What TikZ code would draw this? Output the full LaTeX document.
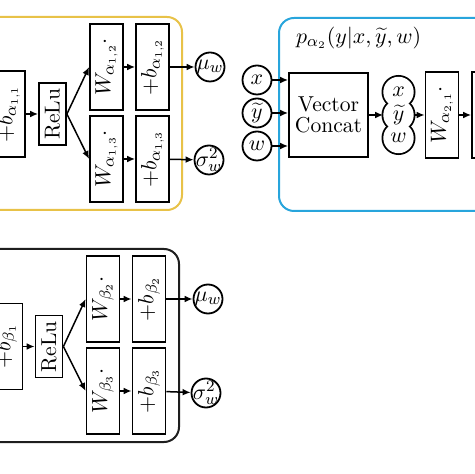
\documentclass[tikz,border=0pt]{standalone}
\usepackage{graphicx}
\usetikzlibrary{arrows.meta}
\definecolor{ylw}{RGB}{232,194,72}
\definecolor{blu}{RGB}{40,165,220}
\definecolor{drk}{RGB}{30,30,30}
\newcommand\rt[1]{\rotatebox{90}{#1}}
\begin{document}
\begin{tikzpicture}[x=0.5pt,y=-0.5pt,
  every node/.style={font=\fontsize{10.8}{10.4}\selectfont},
  box/.style={draw, line width=0.9pt, inner sep=0pt, minimum width=16.5pt, minimum height=43pt},
  relubox/.style={draw, line width=0.9pt, inner sep=0pt, minimum width=13.5pt, minimum height=31pt},
  outc/.style={draw, circle, line width=0.9pt, inner sep=0pt, minimum size=14.5pt},
  stk/.style={circle, inner sep=0pt, minimum size=15pt},
  arr/.style={-{Latex[length=4pt,width=3.4pt]}, line width=0.75pt},
  cont/.style={rounded corners=7.5pt, line width=1pt}]
\useasboundingbox (0,0) rectangle (474,474);
% containers
\draw[cont, ylw] (-30,17) rectangle (182,210);
\draw[cont, blu] (279,18) rectangle (520,211);
\draw[cont, drk] (-30,249) rectangle (179,442);

% top-left network
\node[box] (b11) at (8.5,114) {\rt{$+b_{\alpha_{1,1}}$}};
\node[relubox] (relu1) at (52.5,114) {\rt{ReLu}};
\node[box] (w12) at (106.5,67) {\rt{$W_{\alpha_{1,2}}\cdot$}};
\node[box] (w13) at (106.5,159) {\rt{$W_{\alpha_{1,3}}\cdot$}};
\node[box] (b12) at (152.5,67) {\rt{$+b_{\alpha_{1,2}}$}};
\node[box] (b13) at (152.5,159) {\rt{$+b_{\alpha_{1,3}}$}};
\node[outc, label={center:$\mu_w$}] (mu1) at (210,67) {};
\node[outc, label={center:$\sigma_w^2$}] (sig1) at (209,160) {};
\draw[arr] (b11) -- (relu1);
\draw[arr] (relu1.east) -- (w12.west);
\draw[arr] (relu1.east) -- (w13.west);
\draw[arr] (w12) -- (b12);
\draw[arr] (w13) -- (b13);
\draw[arr] (b12) -- (mu1);
\draw[arr] (b13) -- (sig1);

% top-right network
\node[anchor=west] (title) at (289,38) {$p_{\alpha_2}(y|x,\widetilde{y},w)$};
\node[outc, label={center:$x$}] (xin) at (257,80) {};
\node[outc, label={center:$\widetilde{y}$}] (yin) at (257,113) {};
\node[outc, label={center:$w$}] (win) at (257,146) {};
\node[draw, line width=0.9pt, inner sep=0pt, minimum width=39.5pt, minimum height=42pt, align=center] (vc) at (328.5,115) {Vector\\Concat};
\draw[arr] (xin) -- (xin -| vc.west);
\draw[arr] (yin) -- (yin -| vc.west);
\draw[arr] (win) -- (win -| vc.west);
% stacked vector
\foreach \yy in {92,115,138} \draw[line width=1.8pt] (398.5,\yy) circle[radius=7.6pt];
\foreach \yy in {92,115,138} \fill[white] (398.5,\yy) circle[radius=7.6pt];
\node[stk, label={center:$x$}] (sx) at (398.5,92) {};
\node[stk, label={center:$\widetilde{y}$}] (sy) at (398.5,115) {};
\node[stk, label={center:$w$}] (sw) at (398.5,138) {};
\node[box] (w21) at (442,115) {\rt{$W_{\alpha_{2,1}}\cdot$}};
\node[box] (nxt) at (488.5,115) {};
\draw[arr] (vc) -- (sy.west);
\draw[arr] (sy.east) -- (w21);
\draw[arr] (w21) -- (nxt);

% bottom network
\node[box] (bb1) at (6,346.5) {\rt{$+b_{\beta_1}$}};
\node[relubox] (relu2) at (49,346.5) {\rt{ReLu}};
\node[box] (wb2) at (103,299) {\rt{$W_{\beta_2}\cdot$}};
\node[box] (wb3) at (103,391) {\rt{$W_{\beta_3}\cdot$}};
\node[box] (bb2) at (149,299) {\rt{$+b_{\beta_2}$}};
\node[box] (bb3) at (149,391) {\rt{$+b_{\beta_3}$}};
\node[outc, label={center:$\mu_w$}] (mu2) at (208,299) {};
\node[outc, label={center:$\sigma_w^2$}] (sig2) at (206,393) {};
\draw[arr] (bb1) -- (relu2);
\draw[arr] (relu2.east) -- (wb2.west);
\draw[arr] (relu2.east) -- (wb3.west);
\draw[arr] (wb2) -- (bb2);
\draw[arr] (wb3) -- (bb3);
\draw[arr] (bb2) -- (mu2);
\draw[arr] (bb3) -- (sig2);
\end{tikzpicture}
\end{document}
